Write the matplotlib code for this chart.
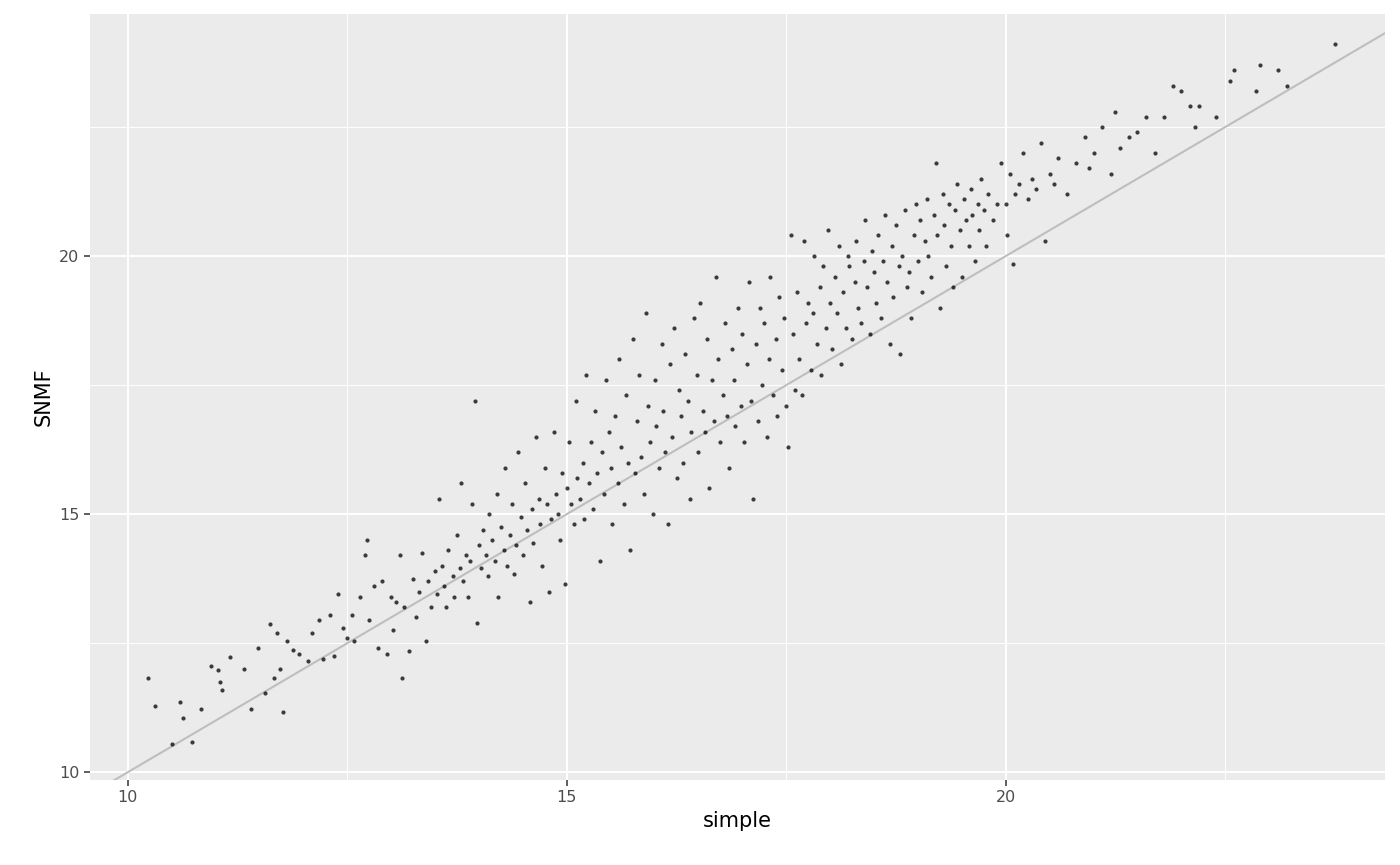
import numpy as np
import matplotlib.pyplot as plt

# points (approximate)
pairs = """
10.23 11.83, 10.31 11.28, 10.50 10.55, 10.59 11.36, 10.63 11.05, 10.73 10.58, 10.83 11.22, 10.95 12.05,
11.03 11.98, 11.05 11.75, 11.07 11.60, 11.16 12.24, 11.32 12.00, 11.40 11.22, 11.48 12.40, 11.56 11.53,
11.62 12.88, 11.67 11.83, 11.70 12.70, 11.77 11.16, 11.73 12.00, 11.81 12.55, 11.88 12.36, 11.95 12.30,
12.05 12.15, 12.10 12.70, 12.18 12.95, 12.22 12.20, 12.30 13.05, 12.35 12.25, 12.40 13.45, 12.45 12.80,
12.50 12.60, 12.55 13.05, 12.58 12.55, 12.65 13.40, 12.70 14.20, 12.72 14.50, 12.75 12.95, 12.80 13.60,
12.85 12.40, 12.90 13.70, 12.95 12.30, 13.00 13.40, 13.02 12.75, 13.05 13.30, 13.10 14.20, 13.12 11.82,
13.15 13.20, 13.20 12.35, 13.25 13.75, 13.28 13.00, 13.32 13.50, 13.35 14.25, 13.40 12.55, 13.42 13.70,
13.45 13.20, 13.50 13.90, 13.52 13.45, 13.55 15.30, 13.58 14.00, 13.60 13.60, 13.62 13.20, 13.65 14.30,
13.70 13.80, 13.72 13.40, 13.75 14.60, 13.78 13.95, 13.80 15.60, 13.82 13.70, 13.85 14.20, 13.88 13.40,
13.90 14.10, 13.92 15.20, 13.95 17.20, 13.98 12.90, 14.00 14.40, 14.02 13.95, 14.05 14.70, 14.08 14.20,
14.10 13.80, 14.12 15.00, 14.15 14.50, 14.18 14.10, 14.20 15.40, 14.22 13.40, 14.25 14.75, 14.28 14.30,
14.30 15.90, 14.32 14.00, 14.35 14.60, 14.38 15.20, 14.40 13.85, 14.42 14.40, 14.45 16.20, 14.48 14.95,
14.50 14.20, 14.52 15.60, 14.55 14.70, 14.58 13.30, 14.60 15.10, 14.62 14.45, 14.65 16.50, 14.68 15.30,
14.70 14.80, 14.72 14.00, 14.75 15.90, 14.78 15.20, 14.80 13.50, 14.82 14.90, 14.85 16.60, 14.88 15.40,
14.90 15.00, 14.92 14.50, 14.95 15.80, 14.98 13.65, 15.00 15.50, 15.02 16.40, 15.05 15.20, 15.08 14.80,
15.10 17.20, 15.12 15.70, 15.15 15.30, 15.18 16.00, 15.20 14.90, 15.22 17.70, 15.25 15.60, 15.28 16.40,
15.30 15.10, 15.32 17.00, 15.35 15.80, 15.38 14.10, 15.40 16.20, 15.42 15.40, 15.45 17.60, 15.48 16.60,
15.50 15.90, 15.52 14.80, 15.55 16.90, 15.58 15.60, 15.60 18.00, 15.62 16.30, 15.65 15.20, 15.68 17.30,
15.70 16.00, 15.72 14.30, 15.75 18.40, 15.78 15.80, 15.80 16.80, 15.82 17.70, 15.85 16.10, 15.88 15.40,
15.90 18.90, 15.92 17.10, 15.95 16.40, 15.98 15.00, 16.00 17.60, 16.02 16.70, 16.05 15.90, 16.08 18.30,
16.10 17.00, 16.12 16.20, 16.15 14.80, 16.18 17.90, 16.20 16.50, 16.22 18.60, 16.25 15.70, 16.28 17.40,
16.30 16.90, 16.32 16.00, 16.35 18.10, 16.38 17.20, 16.40 15.30, 16.42 16.60, 16.45 18.80, 16.48 17.70,
16.50 16.20, 16.52 19.10, 16.55 17.00, 16.58 16.60, 16.60 18.40, 16.62 15.50, 16.65 17.60, 16.68 16.80,
16.70 19.60, 16.72 18.00, 16.75 16.40, 16.78 17.30, 16.80 18.70, 16.82 16.90, 16.85 15.90, 16.88 18.20,
16.90 17.60, 16.92 16.70, 16.95 19.00, 16.98 17.10, 17.00 18.50, 17.02 16.40, 17.05 17.90, 17.08 19.50,
17.10 17.20, 17.12 15.30, 17.15 18.30, 17.18 16.80, 17.20 19.00, 17.22 17.50, 17.25 18.70, 17.28 16.50,
17.30 18.00, 17.32 19.60, 17.35 17.30, 17.38 18.40, 17.40 16.90, 17.42 19.20, 17.45 17.80, 17.48 18.80,
17.50 17.10, 17.52 16.30, 17.55 20.40, 17.58 18.50, 17.60 17.40, 17.62 19.30, 17.65 18.00, 17.68 17.30,
17.70 20.30, 17.72 18.70, 17.75 19.10, 17.78 17.80, 17.80 18.90, 17.82 20.00, 17.85 18.30, 17.88 19.40,
17.90 17.70, 17.92 19.80, 17.95 18.60, 17.98 20.50, 18.00 19.10, 18.02 18.20, 18.05 19.60, 18.08 18.90,
18.10 20.20, 18.12 17.90, 18.15 19.30, 18.18 18.60, 18.20 20.00, 18.22 19.80, 18.25 18.40, 18.28 19.50,
18.30 20.30, 18.32 19.00, 18.35 18.70, 18.38 19.90, 18.40 20.70, 18.42 19.40, 18.45 18.50, 18.48 20.10,
18.50 19.70, 18.52 19.10, 18.55 20.40, 18.58 18.80, 18.60 19.90, 18.62 20.80, 18.65 19.50, 18.68 18.30,
18.70 20.20, 18.72 19.20, 18.75 20.60, 18.78 19.80, 18.80 18.10, 18.82 20.00, 18.85 20.90, 18.88 19.40,
18.90 19.70, 18.92 18.80, 18.95 20.40, 18.98 21.00, 19.00 19.90, 19.02 20.70, 19.05 19.30, 19.08 20.30,
19.10 21.10, 19.12 20.00, 19.15 19.60, 19.18 20.80, 19.20 21.80, 19.22 20.40, 19.25 19.00, 19.28 21.20,
19.30 20.60, 19.32 19.80, 19.35 21.00, 19.38 20.20, 19.40 19.40, 19.42 20.90, 19.45 21.40, 19.48 20.50,
19.50 19.60, 19.52 21.10, 19.55 20.70, 19.58 20.20, 19.60 21.30, 19.62 20.80, 19.65 19.90, 19.68 21.00,
19.70 20.50, 19.72 21.50, 19.75 20.90, 19.78 20.20, 19.80 21.20, 19.85 20.70, 19.90 21.00, 19.95 21.80,
20.00 21.00, 20.02 20.40, 20.05 21.60, 20.08 19.85, 20.10 21.20, 20.15 21.40, 20.20 22.00, 20.25 21.10,
20.30 21.50, 20.35 21.30, 20.40 22.20, 20.45 20.30, 20.50 21.60, 20.55 21.40, 20.60 21.90, 20.70 21.20,
20.80 21.80, 20.90 22.30, 20.95 21.70, 21.00 22.00, 21.10 22.50, 21.20 21.60, 21.25 22.80, 21.30 22.10,
21.40 22.30, 21.50 22.40, 21.60 22.70, 21.70 22.00, 21.80 22.70, 21.90 23.30, 22.00 23.20, 22.10 22.90,
22.15 22.50, 22.20 22.90, 22.40 22.70, 22.55 23.40, 22.60 23.60, 22.85 23.20, 22.90 23.70, 23.10 23.60,
23.20 23.30, 23.75 24.10
"""
vals = np.array([p.split() for p in pairs.replace("\n", " ").split(",")], dtype=float)
simple = vals[:, 0]
snmf = vals[:, 1]

fig = plt.figure(figsize=(14, 8.65), dpi=100)
ax = fig.add_axes([0.0643, 0.0983, 0.925, 0.8855])
ax.set_facecolor('#EBEBEB')
for s in ax.spines.values():
    s.set_visible(False)

ax.set_xlim(9.57, 24.32)
ax.set_ylim(9.85, 24.69)
ax.set_xticks([10, 15, 20])
ax.set_yticks([10, 15, 20])
ax.set_xticks([12.5, 17.5, 22.5], minor=True)
ax.set_yticks([12.5, 17.5, 22.5], minor=True)
ax.grid(which='major', color='white', linewidth=1.4)
ax.grid(which='minor', color='white', linewidth=0.7)
ax.set_axisbelow(True)
ax.tick_params(which='major', colors='#333333', labelcolor='#4D4D4D', labelsize=11.5, length=4, width=1.1)
ax.tick_params(which='minor', length=0)

ax.plot([9.57, 24.32], [9.57, 24.32], color='#BEBEBE', linewidth=1.5, zorder=2)
ax.scatter(simple, snmf, s=9, color='black', alpha=0.75, linewidths=0, zorder=3)

ax.set_xlabel('simple', fontsize=15)
ax.set_ylabel('SNMF', fontsize=15)

fig.savefig('out.png')
